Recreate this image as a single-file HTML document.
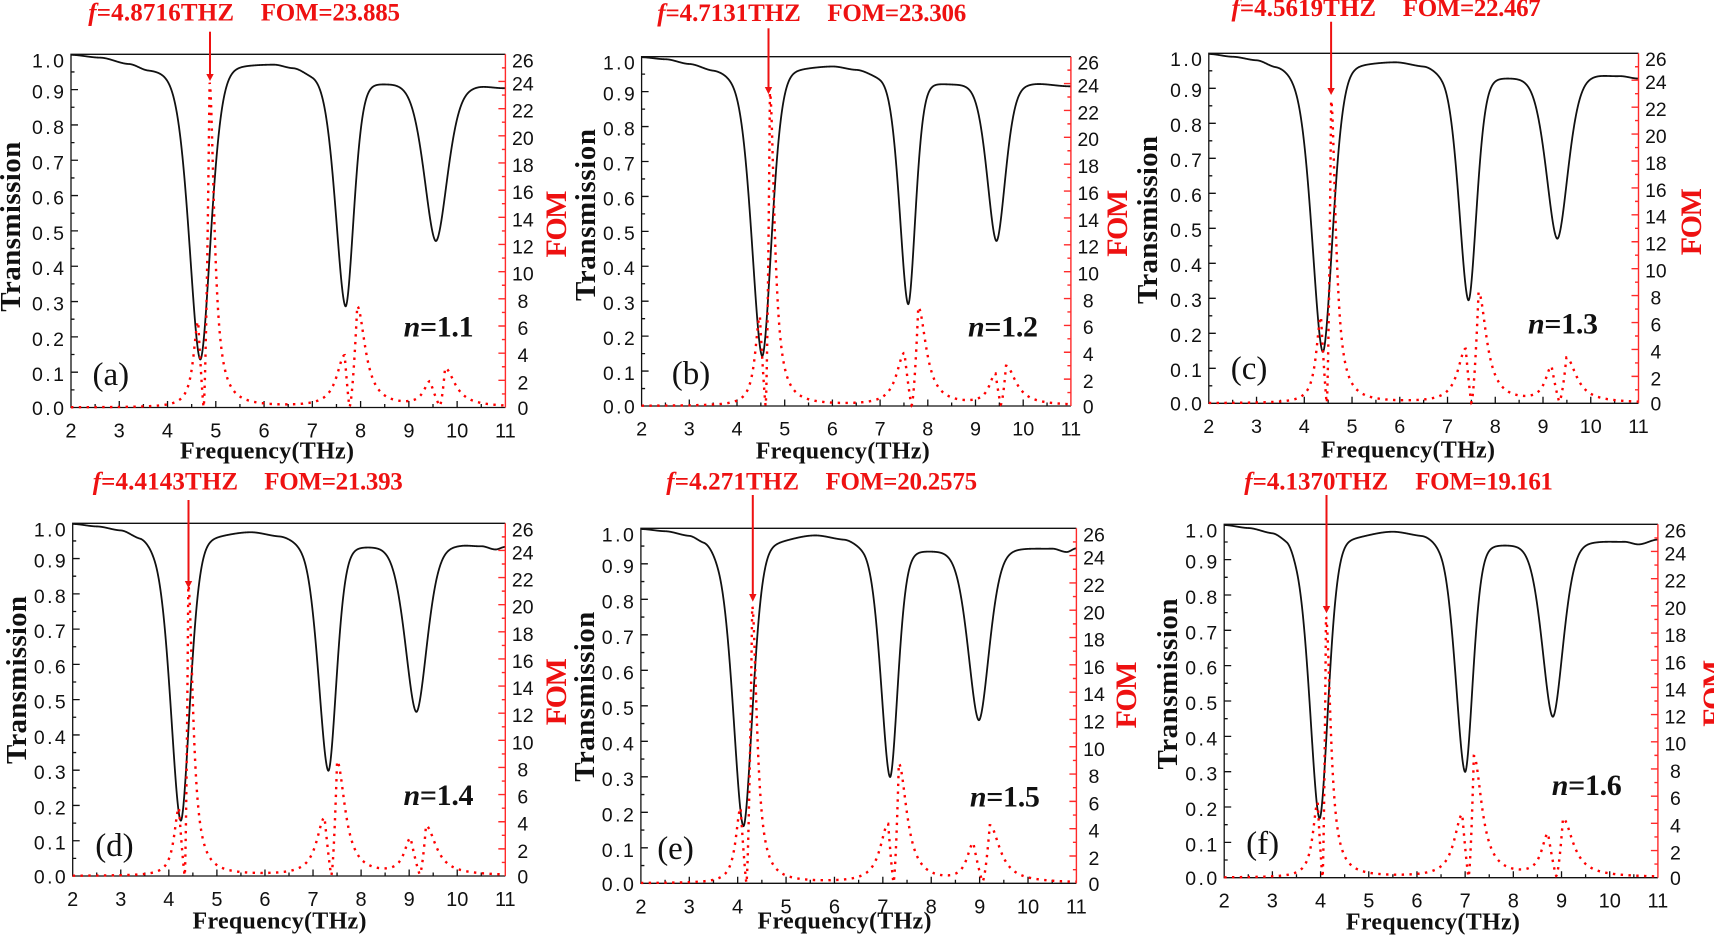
<!DOCTYPE html>
<html><head><meta charset="utf-8">
<style>
html,body{margin:0;padding:0;background:#fff;}
svg{display:block;}
.tk text{font-family:"Liberation Sans",sans-serif;fill:#111;}
.yl text{font-size:19.5px;}
.yr text{font-size:19.5px;}
.xl text{font-size:20px;}
.tt{font-family:"Liberation Serif",serif;font-weight:bold;font-size:25px;fill:#ee1111;}
.yt{font-family:"Liberation Serif",serif;font-weight:bold;font-size:29px;fill:#111;}
.fm{font-family:"Liberation Serif",serif;font-weight:bold;font-size:30px;fill:#ee1111;}
.xt{font-family:"Liberation Serif",serif;font-weight:bold;font-size:24px;fill:#111;}
.lt{font-family:"Liberation Serif",serif;font-size:33px;fill:#111;}
.nn{font-family:"Liberation Serif",serif;font-weight:bold;font-size:30px;fill:#111;}
</style></head><body>
<svg id="s" width="1714" height="939" viewBox="0 0 1714 939" xmlns="http://www.w3.org/2000/svg">
<rect width="1714" height="939" fill="#fff"/>
<g id="plots"></g>

<!-- ===== tick labels (a) ===== -->
<g class="tk" transform="translate(71,54.3) scale(1.0009,1.0006)">
<g class="yl" text-anchor="end">
<text x="-7" y="13" textLength="32">1.0</text><text x="-7" y="44.3" textLength="32">0.9</text><text x="-7" y="79.6" textLength="32">0.8</text><text x="-7" y="114.9" textLength="32">0.7</text><text x="-7" y="150.2" textLength="32">0.6</text><text x="-7" y="185.5" textLength="32">0.5</text><text x="-7" y="220.8" textLength="32">0.4</text><text x="-7" y="256.1" textLength="32">0.3</text><text x="-7" y="291.4" textLength="32">0.2</text><text x="-7" y="326.7" textLength="32">0.1</text><text x="-7" y="360.5" textLength="32">0.0</text>
</g>
<g class="yr" text-anchor="middle">
<text x="451.5" y="13">26</text><text x="451.5" y="36.2">24</text><text x="451.5" y="63.3">22</text><text x="451.5" y="90.5">20</text><text x="451.5" y="117.6">18</text><text x="451.5" y="144.8">16</text><text x="451.5" y="171.9">14</text><text x="451.5" y="199.1">12</text><text x="451.5" y="226.2">10</text><text x="451.5" y="253.4">8</text><text x="451.5" y="280.5">6</text><text x="451.5" y="307.7">4</text><text x="451.5" y="334.9">2</text><text x="451.5" y="360.5">0</text>
</g>
<g class="xl" text-anchor="middle">
<text x="0" y="383">2</text><text x="48.2" y="383">3</text><text x="96.4" y="383">4</text><text x="144.7" y="383">5</text><text x="192.9" y="383">6</text><text x="241.1" y="383">7</text><text x="289.3" y="383">8</text><text x="337.6" y="383">9</text><text x="385.8" y="383">10</text><text x="434" y="383">11</text>
</g>
</g>

<!-- ===== tick labels (b) ===== -->
<g class="tk" transform="translate(641.6,56.7) scale(0.9892,0.9895)">
<g class="yl" text-anchor="end">
<text x="-7" y="13" textLength="32">1.0</text><text x="-7" y="44.3" textLength="32">0.9</text><text x="-7" y="79.6" textLength="32">0.8</text><text x="-7" y="114.9" textLength="32">0.7</text><text x="-7" y="150.2" textLength="32">0.6</text><text x="-7" y="185.5" textLength="32">0.5</text><text x="-7" y="220.8" textLength="32">0.4</text><text x="-7" y="256.1" textLength="32">0.3</text><text x="-7" y="291.4" textLength="32">0.2</text><text x="-7" y="326.7" textLength="32">0.1</text><text x="-7" y="360.5" textLength="32">0.0</text>
</g>
<g class="yr" text-anchor="middle">
<text x="451.5" y="13">26</text><text x="451.5" y="36.2">24</text><text x="451.5" y="63.3">22</text><text x="451.5" y="90.5">20</text><text x="451.5" y="117.6">18</text><text x="451.5" y="144.8">16</text><text x="451.5" y="171.9">14</text><text x="451.5" y="199.1">12</text><text x="451.5" y="226.2">10</text><text x="451.5" y="253.4">8</text><text x="451.5" y="280.5">6</text><text x="451.5" y="307.7">4</text><text x="451.5" y="334.9">2</text><text x="451.5" y="360.5">0</text>
</g>
<g class="xl" text-anchor="middle">
<text x="0" y="383">2</text><text x="48.2" y="383">3</text><text x="96.4" y="383">4</text><text x="144.7" y="383">5</text><text x="192.9" y="383">6</text><text x="241.1" y="383">7</text><text x="289.3" y="383">8</text><text x="337.6" y="383">9</text><text x="385.8" y="383">10</text><text x="434" y="383">11</text>
</g>
</g>

<!-- ===== tick labels (c) ===== -->
<g class="tk" transform="translate(1208.8,53.3) scale(0.9901,0.9915)">
<g class="yl" text-anchor="end">
<text x="-7" y="13" textLength="32">1.0</text><text x="-7" y="44.3" textLength="32">0.9</text><text x="-7" y="79.6" textLength="32">0.8</text><text x="-7" y="114.9" textLength="32">0.7</text><text x="-7" y="150.2" textLength="32">0.6</text><text x="-7" y="185.5" textLength="32">0.5</text><text x="-7" y="220.8" textLength="32">0.4</text><text x="-7" y="256.1" textLength="32">0.3</text><text x="-7" y="291.4" textLength="32">0.2</text><text x="-7" y="326.7" textLength="32">0.1</text><text x="-7" y="360.5" textLength="32">0.0</text>
</g>
<g class="yr" text-anchor="middle">
<text x="451.5" y="13">26</text><text x="451.5" y="36.2">24</text><text x="451.5" y="63.3">22</text><text x="451.5" y="90.5">20</text><text x="451.5" y="117.6">18</text><text x="451.5" y="144.8">16</text><text x="451.5" y="171.9">14</text><text x="451.5" y="199.1">12</text><text x="451.5" y="226.2">10</text><text x="451.5" y="253.4">8</text><text x="451.5" y="280.5">6</text><text x="451.5" y="307.7">4</text><text x="451.5" y="334.9">2</text><text x="451.5" y="360.5">0</text>
</g>
<g class="xl" text-anchor="middle">
<text x="0" y="383">2</text><text x="48.2" y="383">3</text><text x="96.4" y="383">4</text><text x="144.7" y="383">5</text><text x="192.9" y="383">6</text><text x="241.1" y="383">7</text><text x="289.3" y="383">8</text><text x="337.6" y="383">9</text><text x="385.8" y="383">10</text><text x="434" y="383">11</text>
</g>
</g>

<!-- ===== tick labels (d) ===== -->
<g class="tk" transform="translate(72.7,523.3) scale(0.9968,0.9992)">
<g class="yl" text-anchor="end">
<text x="-7" y="13" textLength="32">1.0</text><text x="-7" y="44.3" textLength="32">0.9</text><text x="-7" y="79.6" textLength="32">0.8</text><text x="-7" y="114.9" textLength="32">0.7</text><text x="-7" y="150.2" textLength="32">0.6</text><text x="-7" y="185.5" textLength="32">0.5</text><text x="-7" y="220.8" textLength="32">0.4</text><text x="-7" y="256.1" textLength="32">0.3</text><text x="-7" y="291.4" textLength="32">0.2</text><text x="-7" y="326.7" textLength="32">0.1</text><text x="-7" y="360.5" textLength="32">0.0</text>
</g>
<g class="yr" text-anchor="middle">
<text x="451.5" y="13">26</text><text x="451.5" y="36.2">24</text><text x="451.5" y="63.3">22</text><text x="451.5" y="90.5">20</text><text x="451.5" y="117.6">18</text><text x="451.5" y="144.8">16</text><text x="451.5" y="171.9">14</text><text x="451.5" y="199.1">12</text><text x="451.5" y="226.2">10</text><text x="451.5" y="253.4">8</text><text x="451.5" y="280.5">6</text><text x="451.5" y="307.7">4</text><text x="451.5" y="334.9">2</text><text x="451.5" y="360.5">0</text>
</g>
<g class="xl" text-anchor="middle">
<text x="0" y="383">2</text><text x="48.2" y="383">3</text><text x="96.4" y="383">4</text><text x="144.7" y="383">5</text><text x="192.9" y="383">6</text><text x="241.1" y="383">7</text><text x="289.3" y="383">8</text><text x="337.6" y="383">9</text><text x="385.8" y="383">10</text><text x="434" y="383">11</text>
</g>
</g>

<!-- ===== tick labels (e) ===== -->
<g class="tk" transform="translate(640.9,528.3) scale(1.0035,1.0057)">
<g class="yl" text-anchor="end">
<text x="-7" y="13" textLength="32">1.0</text><text x="-7" y="44.3" textLength="32">0.9</text><text x="-7" y="79.6" textLength="32">0.8</text><text x="-7" y="114.9" textLength="32">0.7</text><text x="-7" y="150.2" textLength="32">0.6</text><text x="-7" y="185.5" textLength="32">0.5</text><text x="-7" y="220.8" textLength="32">0.4</text><text x="-7" y="256.1" textLength="32">0.3</text><text x="-7" y="291.4" textLength="32">0.2</text><text x="-7" y="326.7" textLength="32">0.1</text><text x="-7" y="360.5" textLength="32">0.0</text>
</g>
<g class="yr" text-anchor="middle">
<text x="451.5" y="13">26</text><text x="451.5" y="36.2">24</text><text x="451.5" y="63.3">22</text><text x="451.5" y="90.5">20</text><text x="451.5" y="117.6">18</text><text x="451.5" y="144.8">16</text><text x="451.5" y="171.9">14</text><text x="451.5" y="199.1">12</text><text x="451.5" y="226.2">10</text><text x="451.5" y="253.4">8</text><text x="451.5" y="280.5">6</text><text x="451.5" y="307.7">4</text><text x="451.5" y="334.9">2</text><text x="451.5" y="360.5">0</text>
</g>
<g class="xl" text-anchor="middle">
<text x="0" y="383">2</text><text x="48.2" y="383">3</text><text x="96.4" y="383">4</text><text x="144.7" y="383">5</text><text x="192.9" y="383">6</text><text x="241.1" y="383">7</text><text x="289.3" y="383">8</text><text x="337.6" y="383">9</text><text x="385.8" y="383">10</text><text x="434" y="383">11</text>
</g>
</g>

<!-- ===== tick labels (f) ===== -->
<g class="tk" transform="translate(1224.2,524.3) scale(0.9993,1.0011)">
<g class="yl" text-anchor="end">
<text x="-7" y="13" textLength="32">1.0</text><text x="-7" y="44.3" textLength="32">0.9</text><text x="-7" y="79.6" textLength="32">0.8</text><text x="-7" y="114.9" textLength="32">0.7</text><text x="-7" y="150.2" textLength="32">0.6</text><text x="-7" y="185.5" textLength="32">0.5</text><text x="-7" y="220.8" textLength="32">0.4</text><text x="-7" y="256.1" textLength="32">0.3</text><text x="-7" y="291.4" textLength="32">0.2</text><text x="-7" y="326.7" textLength="32">0.1</text><text x="-7" y="360.5" textLength="32">0.0</text>
</g>
<g class="yr" text-anchor="middle">
<text x="451.5" y="13">26</text><text x="451.5" y="36.2">24</text><text x="451.5" y="63.3">22</text><text x="451.5" y="90.5">20</text><text x="451.5" y="117.6">18</text><text x="451.5" y="144.8">16</text><text x="451.5" y="171.9">14</text><text x="451.5" y="199.1">12</text><text x="451.5" y="226.2">10</text><text x="451.5" y="253.4">8</text><text x="451.5" y="280.5">6</text><text x="451.5" y="307.7">4</text><text x="451.5" y="334.9">2</text><text x="451.5" y="360.5">0</text>
</g>
<g class="xl" text-anchor="middle">
<text x="0" y="383">2</text><text x="48.2" y="383">3</text><text x="96.4" y="383">4</text><text x="144.7" y="383">5</text><text x="192.9" y="383">6</text><text x="241.1" y="383">7</text><text x="289.3" y="383">8</text><text x="337.6" y="383">9</text><text x="385.8" y="383">10</text><text x="434" y="383">11</text>
</g>
</g>

<!-- ===== titles ===== -->
<text class="tt" x="88.3" y="20.5" textLength="145.7"><tspan font-style="italic">f</tspan>=4.8716THZ</text>
<text class="tt" x="260.7" y="20.5" textLength="139.3">FOM=23.885</text>
<text class="tt" x="657.2" y="21" textLength="143.6"><tspan font-style="italic">f</tspan>=4.7131THZ</text>
<text class="tt" x="827.4" y="21" textLength="138.8">FOM=23.306</text>
<text class="tt" x="1231.5" y="16" textLength="144.6"><tspan font-style="italic">f</tspan>=4.5619THZ</text>
<text class="tt" x="1402.8" y="16" textLength="138">FOM=22.467</text>
<text class="tt" x="92.7" y="489.5" textLength="145.4"><tspan font-style="italic">f</tspan>=4.4143THZ</text>
<text class="tt" x="264.3" y="489.5" textLength="138.5">FOM=21.393</text>
<text class="tt" x="666.3" y="489.5" textLength="132.7"><tspan font-style="italic">f</tspan>=4.271THZ</text>
<text class="tt" x="825.5" y="489.5" textLength="151.6">FOM=20.2575</text>
<text class="tt" x="1244.3" y="489.5" textLength="143.9"><tspan font-style="italic">f</tspan>=4.1370THZ</text>
<text class="tt" x="1415.3" y="489.5" textLength="137.6">FOM=19.161</text>

<!-- ===== arrows ===== -->
<g stroke="#ee1111" stroke-width="2" fill="#ee1111">
<line x1="210" y1="31.7" x2="210" y2="75"/><polygon stroke="none" points="206.3,74 213.7,74 210,81"/>
<line x1="768.5" y1="28.3" x2="768.5" y2="88"/><polygon stroke="none" points="764.8,87 772.2,87 768.5,94.3"/>
<line x1="1331.1" y1="21.7" x2="1331.1" y2="89"/><polygon stroke="none" points="1327.4,88 1334.8,88 1331.1,95"/>
<line x1="188.5" y1="500" x2="188.5" y2="582"/><polygon stroke="none" points="184.8,581 192.2,581 188.5,588.3"/>
<line x1="752.8" y1="495" x2="752.8" y2="595"/><polygon stroke="none" points="749.1,594 756.5,594 752.8,601.7"/>
<line x1="1326.5" y1="495" x2="1326.5" y2="607"/><polygon stroke="none" points="1322.8,606 1330.2,606 1326.5,613.3"/>
</g>

<!-- ===== Transmission labels ===== -->
<text class="yt" transform="translate(20,226.7) rotate(-90)" text-anchor="middle" textLength="170">Transmission</text>
<text class="yt" transform="translate(595,215) rotate(-90)" text-anchor="middle" textLength="172">Transmission</text>
<text class="yt" transform="translate(1157,220) rotate(-90)" text-anchor="middle" textLength="168">Transmission</text>
<text class="yt" transform="translate(26,680) rotate(-90)" text-anchor="middle" textLength="168">Transmission</text>
<text class="yt" transform="translate(594,696.7) rotate(-90)" text-anchor="middle" textLength="170">Transmission</text>
<text class="yt" transform="translate(1177,684) rotate(-90)" text-anchor="middle" textLength="171">Transmission</text>

<!-- ===== FOM labels ===== -->
<text class="fm" transform="translate(566,224) rotate(-90)" text-anchor="middle" textLength="67">FOM</text>
<text class="fm" transform="translate(1127,223.3) rotate(-90)" text-anchor="middle" textLength="67">FOM</text>
<text class="fm" transform="translate(1701,221.7) rotate(-90)" text-anchor="middle" textLength="67">FOM</text>
<text class="fm" transform="translate(566,691.7) rotate(-90)" text-anchor="middle" textLength="67">FOM</text>
<text class="fm" transform="translate(1136,695) rotate(-90)" text-anchor="middle" textLength="67">FOM</text>
<text class="fm" transform="translate(1723,693.3) rotate(-90)" text-anchor="middle" textLength="67">FOM</text>

<!-- ===== Frequency labels ===== -->
<text class="xt" x="267" y="458.5" text-anchor="middle" textLength="174">Frequency(THz)</text>
<text class="xt" x="842.7" y="458.5" text-anchor="middle" textLength="174">Frequency(THz)</text>
<text class="xt" x="1408" y="457.5" text-anchor="middle" textLength="174">Frequency(THz)</text>
<text class="xt" x="279.5" y="928.5" text-anchor="middle" textLength="174">Frequency(THz)</text>
<text class="xt" x="844.5" y="928.5" text-anchor="middle" textLength="174">Frequency(THz)</text>
<text class="xt" x="1432.9" y="929.5" text-anchor="middle" textLength="174">Frequency(THz)</text>

<!-- ===== panel letters ===== -->
<text class="lt" x="92.5" y="385">(a)</text>
<text class="lt" x="671.8" y="384">(b)</text>
<text class="lt" x="1230.8" y="379">(c)</text>
<text class="lt" x="95.2" y="856">(d)</text>
<text class="lt" x="657.2" y="859">(e)</text>
<text class="lt" x="1246.1" y="854">(f)</text>

<!-- ===== n labels ===== -->
<text class="nn" x="403.6" y="336.7" textLength="70"><tspan font-style="italic">n</tspan>=1.1</text>
<text class="nn" x="968" y="336.7" textLength="70"><tspan font-style="italic">n</tspan>=1.2</text>
<text class="nn" x="1528" y="333.3" textLength="70"><tspan font-style="italic">n</tspan>=1.3</text>
<text class="nn" x="403.5" y="805" textLength="70"><tspan font-style="italic">n</tspan>=1.4</text>
<text class="nn" x="969.9" y="806.7" textLength="70"><tspan font-style="italic">n</tspan>=1.5</text>
<text class="nn" x="1551.8" y="795" textLength="70"><tspan font-style="italic">n</tspan>=1.6</text>
</svg>

<script>
(function(){
var NS="http://www.w3.org/2000/svg";
var G=document.getElementById('plots');
function el(tag,a){var e=document.createElementNS(NS,tag);for(var k in a)e.setAttribute(k,a[k]);G.appendChild(e);return e;}
var P=[
{L:71,R:505.4,T:54.3,B:407.5,
 base:[[2,1],[2.6,.993],[3.2,.977],[3.6,.962],[4.2,.958],[5.2,.976],[6.2,.977],[6.6,.968],[7,.952],[7.5,.94],[8.6,.925],[9.5,.92],[10.4,.915],[11,.907]],
 dips:[[4.68,.136,.27,.25],[7.69,.287,.24,.2],[9.56,.472,.28,.28]],
 fom:[[4.635,6.3,4.747,4.871,23.885],[7.67,3.8,7.77,7.93,7.4],[9.44,1.8,9.64,9.75,2.8]]},
{L:641.6,R:1070.9,T:56.7,B:406,
 base:[[2,1],[2.5,.995],[3,.983],[3.5,.968],[3.9,.96],[5.2,.973],[6,.977],[6.5,.968],[7,.952],[7.5,.94],[8.6,.928],[9.5,.927],[10.2,.927],[11,.917]],
 dips:[[4.53,.143,.26,.23],[7.59,.292,.21,.18],[9.44,.473,.23,.22]],
 fom:[[4.48,6.65,4.60,4.69,23.306],[7.51,3.9,7.66,7.80,7.3],[9.42,2.3,9.53,9.64,2.9]]},
{L:1208.8,R:1638.5,T:53.3,B:403.3,
 base:[[2,1],[2.5,.993],[3,.985],[3.4,.97],[3.8,.96],[5,.976],[5.9,.98],[6.5,.97],[6.9,.955],[7.3,.945],[8.4,.938],[9.3,.937],[10.1,.942],[10.6,.938],[11,.93]],
 dips:[[4.39,.147,.27,.24],[7.44,.295,.23,.2],[9.30,.471,.27,.26]],
 fom:[[4.35,6.4,4.47,4.562,22.467],[7.38,4.0,7.50,7.65,8.2],[9.18,2.6,9.34,9.49,3.3]]},
{L:72.7,R:505.3,T:523.3,B:876,
 base:[[2,1],[2.5,.994],[3,.985],[3.4,.968],[3.7,.955],[4.8,.97],[5.7,.98],[6.3,.97],[6.8,.955],[7.2,.945],[8.3,.942],[9.2,.94],[10.1,.942],[10.5,.938],[10.8,.928],[11,.935]],
 dips:[[4.25,.157,.25,.22],[7.32,.299,.24,.2],[9.15,.466,.27,.26]],
 fom:[[4.21,5.0,4.33,4.405,21.393],[7.24,4.25,7.38,7.50,8.4],[9.03,2.65,9.22,9.35,3.6]]},
{L:640.9,R:1076.4,T:528.3,B:883.3,
 base:[[2,1],[2.5,.995],[3,.985],[3.3,.972],[3.6,.955],[4.7,.97],[5.6,.985],[6.2,.975],[6.6,.96],[7,.95],[8.1,.944],[9,.945],[9.9,.947],[10.5,.945],[10.8,.935],[11,.945]],
 dips:[[4.12,.161,.25,.22],[7.15,.30,.22,.19],[8.985,.46,.26,.25]],
 fom:[[4.06,5.5,4.18,4.30,20.2575],[7.11,4.3,7.22,7.33,8.7],[8.87,2.8,9.06,9.21,4.15]]},
{L:1224.2,R:1657.9,T:524.3,B:877.7,
 base:[[2,1],[2.5,.993],[3,.982],[3.3,.97],[3.5,.955],[4.6,.97],[5.5,.984],[6.1,.975],[6.5,.96],[6.8,.952],[7.9,.95],[8.8,.955],[9.8,.955],[10.3,.953],[10.6,.945],[11,.958]],
 dips:[[3.98,.168,.24,.21],[7.0,.30,.23,.19],[8.82,.456,.26,.25]],
 fom:[[3.94,5.5,4.04,4.112,19.161],[6.94,4.6,7.07,7.18,8.9],[8.72,3.1,8.89,9.03,4.25]]}
];
function interp(pts,f){
 if(f<=pts[0][0])return pts[0][1];
 for(var i=1;i<pts.length;i++){ if(f<=pts[i][0]){var x0=pts[i-1][0],y0=pts[i-1][1],x1=pts[i][0],y1=pts[i][1];var t=(f-x0)/(x1-x0);t=t*t*(3-2*t);return y0+(y1-y0)*t;} }
 return pts[pts.length-1][1];
}
function Ls(x){x=Math.abs(x);return 0.85*Math.exp(-0.693*Math.pow(x,1.8))+0.15/(1+x*x);}
var WW=[[.12,.115],[.2,.2],[.16,.25]];
function fomv(f,p){
 var s=0;
 p.fom.forEach(function(r,i){
  var fl=r[0],PL=r[1],z=r[2],fr=r[3],PR=r[4],d;
  if(f<=fl){d=(fl-f)/WW[i][0];s+=PL/(1+d*d);}
  else if(f<z){s+=PL*Math.pow((z-f)/(z-fl),1.2);}
  if(f>=fr){d=(f-fr)/WW[i][1];s+=PR/(1+d*d);}
  else if(f>z){s+=PR*Math.pow((f-z)/(fr-z),1.6);}
 });
 return Math.min(s,26);
}
P.forEach(function(p){
 var W=p.R-p.L,H=p.B-p.T;
 function X(f){return p.L+(f-2)/9*W;}
 function Yt(t){return p.B-t*H;}
 function Yf(v){return p.B-v/26*H;}
 p.dips.forEach(function(d){d.a=1-d[1]/interp(p.base,d[0]);});
 var tk='',i;
 for(i=1;i<20;i++){var y=p.B-i*0.05*H;var len=(i%2==0)?7:3.5;tk+='M'+p.L+' '+y.toFixed(2)+'h'+len;}
 for(i=1;i<18;i++){var x=p.L+i*W/18;var l2=(i%2==0)?6.5:3.5;tk+='M'+x.toFixed(2)+' '+p.B+'v'+(-l2);}
 el('path',{d:tk,stroke:'#111','stroke-width':1.3,fill:'none'});
 el('path',{d:'M'+p.R+' '+p.T+'H'+p.L+'V'+p.B+'H'+p.R,stroke:'#111','stroke-width':1.3,fill:'none'});
 var d='';
 for(i=0;i<=1800;i++){
  var f=2+9*i/1800;var t=interp(p.base,f);
  p.dips.forEach(function(q){var g=f<q[0]?q[2]:q[3];t*=1-q.a*Ls((f-q[0])/g);});
  t=Math.min(t,1);
  d+=(i?'L':'M')+X(f).toFixed(2)+' '+Yt(t).toFixed(2);
 }
 el('path',{d:d,stroke:'#111','stroke-width':1.8,fill:'none','stroke-linejoin':'round'});
 var fd='';
 for(i=0;i<=3600;i++){
  var f2=2+9*i/3600;var v=fomv(f2,p);
  fd+=(i?'L':'M')+X(f2).toFixed(2)+' '+Yf(v).toFixed(2);
 }
 el('path',{d:fd,stroke:'#ff0000','stroke-width':2.4,'stroke-dasharray':'2.4 5.4',fill:'none'});
 var rt='M'+p.R+' '+p.T+'V'+p.B;
 for(var u=1;u<26;u++){var yy=Yf(u);var ll=(u%2==0)?7:3.5;rt+='M'+p.R+' '+yy.toFixed(2)+'h'+(-ll);}
 el('path',{d:rt,stroke:'#ff2a2a','stroke-width':1.4,fill:'none'});
});
})();
</script>
</body></html>
